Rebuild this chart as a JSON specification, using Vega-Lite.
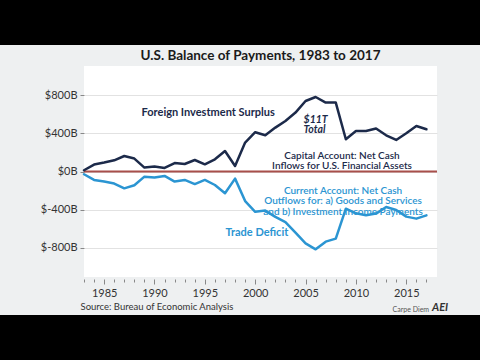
{
  "$schema": "https://vega.github.io/schema/vega-lite/v6.json",
  "width": 353,
  "height": 211,
  "autosize": {"type": "none"},
  "padding": {"left": 84, "top": 66, "right": 43, "bottom": 83},
  "background": "#eef0f1",
  "title": {"text": "U.S. Balance of Payments, 1983 to 2017", "font": "Lato", "fontSize": 13.5, "fontWeight": "bold", "color": "#1a1a1a", "offset": -63, "anchor": "middle"},
  "config": {"view": {"fill": "white", "stroke": null}},
  "resolve": {"axis": {"x": "independent", "y": "independent"}},
  "datasets": {
    "bop": [
      {"year": 1983, "series": "Foreign Investment Surplus", "value": 13},
      {"year": 1984, "series": "Foreign Investment Surplus", "value": 73},
      {"year": 1985, "series": "Foreign Investment Surplus", "value": 94},
      {"year": 1986, "series": "Foreign Investment Surplus", "value": 118},
      {"year": 1987, "series": "Foreign Investment Surplus", "value": 163},
      {"year": 1988, "series": "Foreign Investment Surplus", "value": 136},
      {"year": 1989, "series": "Foreign Investment Surplus", "value": 41},
      {"year": 1990, "series": "Foreign Investment Surplus", "value": 52},
      {"year": 1991, "series": "Foreign Investment Surplus", "value": 37},
      {"year": 1992, "series": "Foreign Investment Surplus", "value": 89},
      {"year": 1993, "series": "Foreign Investment Surplus", "value": 79},
      {"year": 1994, "series": "Foreign Investment Surplus", "value": 121},
      {"year": 1995, "series": "Foreign Investment Surplus", "value": 76},
      {"year": 1996, "series": "Foreign Investment Surplus", "value": 128},
      {"year": 1997, "series": "Foreign Investment Surplus", "value": 216},
      {"year": 1998, "series": "Foreign Investment Surplus", "value": 58},
      {"year": 1999, "series": "Foreign Investment Surplus", "value": 304},
      {"year": 2000, "series": "Foreign Investment Surplus", "value": 413},
      {"year": 2001, "series": "Foreign Investment Surplus", "value": 381},
      {"year": 2002, "series": "Foreign Investment Surplus", "value": 462},
      {"year": 2003, "series": "Foreign Investment Surplus", "value": 532},
      {"year": 2004, "series": "Foreign Investment Surplus", "value": 620},
      {"year": 2005, "series": "Foreign Investment Surplus", "value": 742},
      {"year": 2006, "series": "Foreign Investment Surplus", "value": 784},
      {"year": 2007, "series": "Foreign Investment Surplus", "value": 725},
      {"year": 2008, "series": "Foreign Investment Surplus", "value": 725},
      {"year": 2009, "series": "Foreign Investment Surplus", "value": 339},
      {"year": 2010, "series": "Foreign Investment Surplus", "value": 426},
      {"year": 2011, "series": "Foreign Investment Surplus", "value": 426},
      {"year": 2012, "series": "Foreign Investment Surplus", "value": 452},
      {"year": 2013, "series": "Foreign Investment Surplus", "value": 381},
      {"year": 2014, "series": "Foreign Investment Surplus", "value": 332},
      {"year": 2015, "series": "Foreign Investment Surplus", "value": 402},
      {"year": 2016, "series": "Foreign Investment Surplus", "value": 479},
      {"year": 2017, "series": "Foreign Investment Surplus", "value": 444},
      {"year": 1983, "series": "Trade Deficit", "value": -29},
      {"year": 1984, "series": "Trade Deficit", "value": -89},
      {"year": 1985, "series": "Trade Deficit", "value": -106},
      {"year": 1986, "series": "Trade Deficit", "value": -127},
      {"year": 1987, "series": "Trade Deficit", "value": -177},
      {"year": 1988, "series": "Trade Deficit", "value": -145},
      {"year": 1989, "series": "Trade Deficit", "value": -54},
      {"year": 1990, "series": "Trade Deficit", "value": -64},
      {"year": 1991, "series": "Trade Deficit", "value": -47},
      {"year": 1992, "series": "Trade Deficit", "value": -106},
      {"year": 1993, "series": "Trade Deficit", "value": -89},
      {"year": 1994, "series": "Trade Deficit", "value": -132},
      {"year": 1995, "series": "Trade Deficit", "value": -89},
      {"year": 1996, "series": "Trade Deficit", "value": -142},
      {"year": 1997, "series": "Trade Deficit", "value": -229},
      {"year": 1998, "series": "Trade Deficit", "value": -75},
      {"year": 1999, "series": "Trade Deficit", "value": -311},
      {"year": 2000, "series": "Trade Deficit", "value": -424},
      {"year": 2001, "series": "Trade Deficit", "value": -411},
      {"year": 2002, "series": "Trade Deficit", "value": -477},
      {"year": 2003, "series": "Trade Deficit", "value": -532},
      {"year": 2004, "series": "Trade Deficit", "value": -643},
      {"year": 2005, "series": "Trade Deficit", "value": -756},
      {"year": 2006, "series": "Trade Deficit", "value": -819},
      {"year": 2007, "series": "Trade Deficit", "value": -738},
      {"year": 2008, "series": "Trade Deficit", "value": -706},
      {"year": 2009, "series": "Trade Deficit", "value": -391},
      {"year": 2010, "series": "Trade Deficit", "value": -440},
      {"year": 2011, "series": "Trade Deficit", "value": -461},
      {"year": 2012, "series": "Trade Deficit", "value": -443},
      {"year": 2013, "series": "Trade Deficit", "value": -374},
      {"year": 2014, "series": "Trade Deficit", "value": -405},
      {"year": 2015, "series": "Trade Deficit", "value": -475},
      {"year": 2016, "series": "Trade Deficit", "value": -496},
      {"year": 2017, "series": "Trade Deficit", "value": -461}
    ]
  },
  "layer": [
    {
      "data": {"values": [{}]},
      "mark": {"type": "rule", "color": "#a84f4b", "strokeWidth": 2},
      "encoding": {"y": {"datum": 0, "type": "quantitative", "axis": null}}
    },
    {
      "data": {"name": "bop"},
      "mark": {"type": "line", "strokeWidth": 2.5, "strokeJoin": "round", "strokeCap": "round"},
      "encoding": {
        "x": {
          "field": "year", "type": "quantitative",
          "scale": {"domain": [1983, 2018.05], "nice": false, "zero": false},
          "axis": {
            "values": [1983,1984,1985,1986,1987,1988,1989,1990,1991,1992,1993,1994,1995,1996,1997,1998,1999,2000,2001,2002,2003,2004,2005,2006,2007,2008,2009,2010,2011,2012,2013,2014,2015,2016,2017],
            "format": "d",
            "labelExpr": "datum.value % 5 == 0 ? datum.label : ''",
            "tickSize": {"condition": {"test": "datum.value % 5 == 0", "value": 5}, "value": 3},
            "tickColor": "#888",
            "grid": false, "domain": false, "offset": 2,
            "labelPadding": 3, "labelFont": "Lato", "labelFontSize": 11, "labelColor": "#333",
            "labelOverlap": false, "labelFlush": false,
            "title": "Source: Bureau of Economic Analysis",
            "titleFont": "Lato", "titleFontSize": 9.5, "titleFontWeight": "normal", "titleColor": "#333",
            "titleAnchor": "start", "titleAlign": "left", "titleX": -4, "titleY": 27, "titleBaseline": "middle"
          }
        },
        "y": {
          "field": "value", "type": "quantitative",
          "scale": {"domain": [-1110, 1110], "nice": false},
          "axis": {
            "values": [-800, -400, 0, 400, 800],
            "labelExpr": "'$' + datum.value + 'B'",
            "grid": true, "gridColor": "#e2e2e2", "domain": false,
            "tickSize": 4, "tickColor": "#888", "labelPadding": 3,
            "labelFont": "Lato", "labelFontSize": 11, "labelColor": "#333",
            "title": null
          }
        },
        "color": {
          "field": "series", "type": "nominal",
          "scale": {"domain": ["Foreign Investment Surplus", "Trade Deficit"], "range": ["#1c2a4a", "#2b95d2"]},
          "legend": null
        }
      }
    },
    {
      "data": {"values": [{}]},
      "mark": {"type": "text", "font": "Lato", "fontSize": 11, "fontWeight": "bold", "color": "#1c2a4a", "align": "left", "baseline": "middle", "text": "Foreign Investment Surplus"},
      "encoding": {"x": {"datum": 1988.71, "axis": null}, "y": {"datum": 613, "axis": null}}
    },
    {
      "data": {"values": [{}]},
      "mark": {"type": "text", "font": "Lato", "fontSize": 10.5, "fontWeight": "bold", "fontStyle": "italic", "color": "#1c2a4a", "align": "left", "baseline": "middle", "lineHeight": 10.5, "text": ["$11T", "Total"]},
      "encoding": {"x": {"datum": 2004.8, "axis": null}, "y": {"datum": 542, "axis": null}}
    },
    {
      "data": {"values": [{}]},
      "mark": {"type": "text", "font": "Lato", "fontSize": 10, "fontWeight": 600, "color": "#1c2a4a", "align": "center", "baseline": "middle", "lineHeight": 10.5, "text": ["Capital Account: Net Cash", "Inflows for U.S. Financial Assets"]},
      "encoding": {"x": {"datum": 2008.62, "axis": null}, "y": {"datum": 164, "axis": null}}
    },
    {
      "data": {"values": [{}]},
      "mark": {"type": "text", "font": "Lato", "fontSize": 10, "fontWeight": 600, "color": "#2b95d2", "align": "center", "baseline": "middle", "lineHeight": 10.5, "text": ["Current Account: Net Cash", "Outflows for: a) Goods and Services", "and b) Investment Income Payments"]},
      "encoding": {"x": {"datum": 2008.72, "axis": null}, "y": {"datum": -204, "axis": null}}
    },
    {
      "data": {"values": [{}]},
      "mark": {"type": "text", "font": "Lato", "fontSize": 11, "fontWeight": "bold", "color": "#2b95d2", "align": "left", "baseline": "middle", "text": "Trade Deficit"},
      "encoding": {"x": {"datum": 1997.05, "axis": null}, "y": {"datum": -644, "axis": null}}
    },
    {
      "data": {"values": [{}]},
      "mark": {"type": "text", "font": "Lato", "fontSize": 7, "color": "#555", "align": "left", "baseline": "middle", "text": "Carpe Diem"},
      "encoding": {"x": {"datum": 2013.64, "axis": null}, "y": {"datum": -1457, "axis": null}}
    },
    {
      "data": {"values": [{}]},
      "mark": {"type": "text", "font": "Lato", "fontSize": 11, "fontWeight": "bold", "fontStyle": "italic", "color": "#333", "align": "left", "baseline": "middle", "text": "AEI"},
      "encoding": {"x": {"datum": 2017.56, "axis": null}, "y": {"datum": -1436, "axis": null}}
    },
    {
      "data": {"values": [{}]},
      "mark": {"type": "rect", "color": "black"},
      "encoding": {"x": {"datum": 1970, "axis": null}, "x2": {"datum": 2030}, "y": {"datum": 1331, "axis": null}, "y2": {"datum": 1806}}
    },
    {
      "data": {"values": [{}]},
      "mark": {"type": "rect", "color": "black"},
      "encoding": {"x": {"datum": 1970, "axis": null}, "x2": {"datum": 2030}, "y": {"datum": -1510, "axis": null}, "y2": {"datum": -3000}}
    }
  ]
}
